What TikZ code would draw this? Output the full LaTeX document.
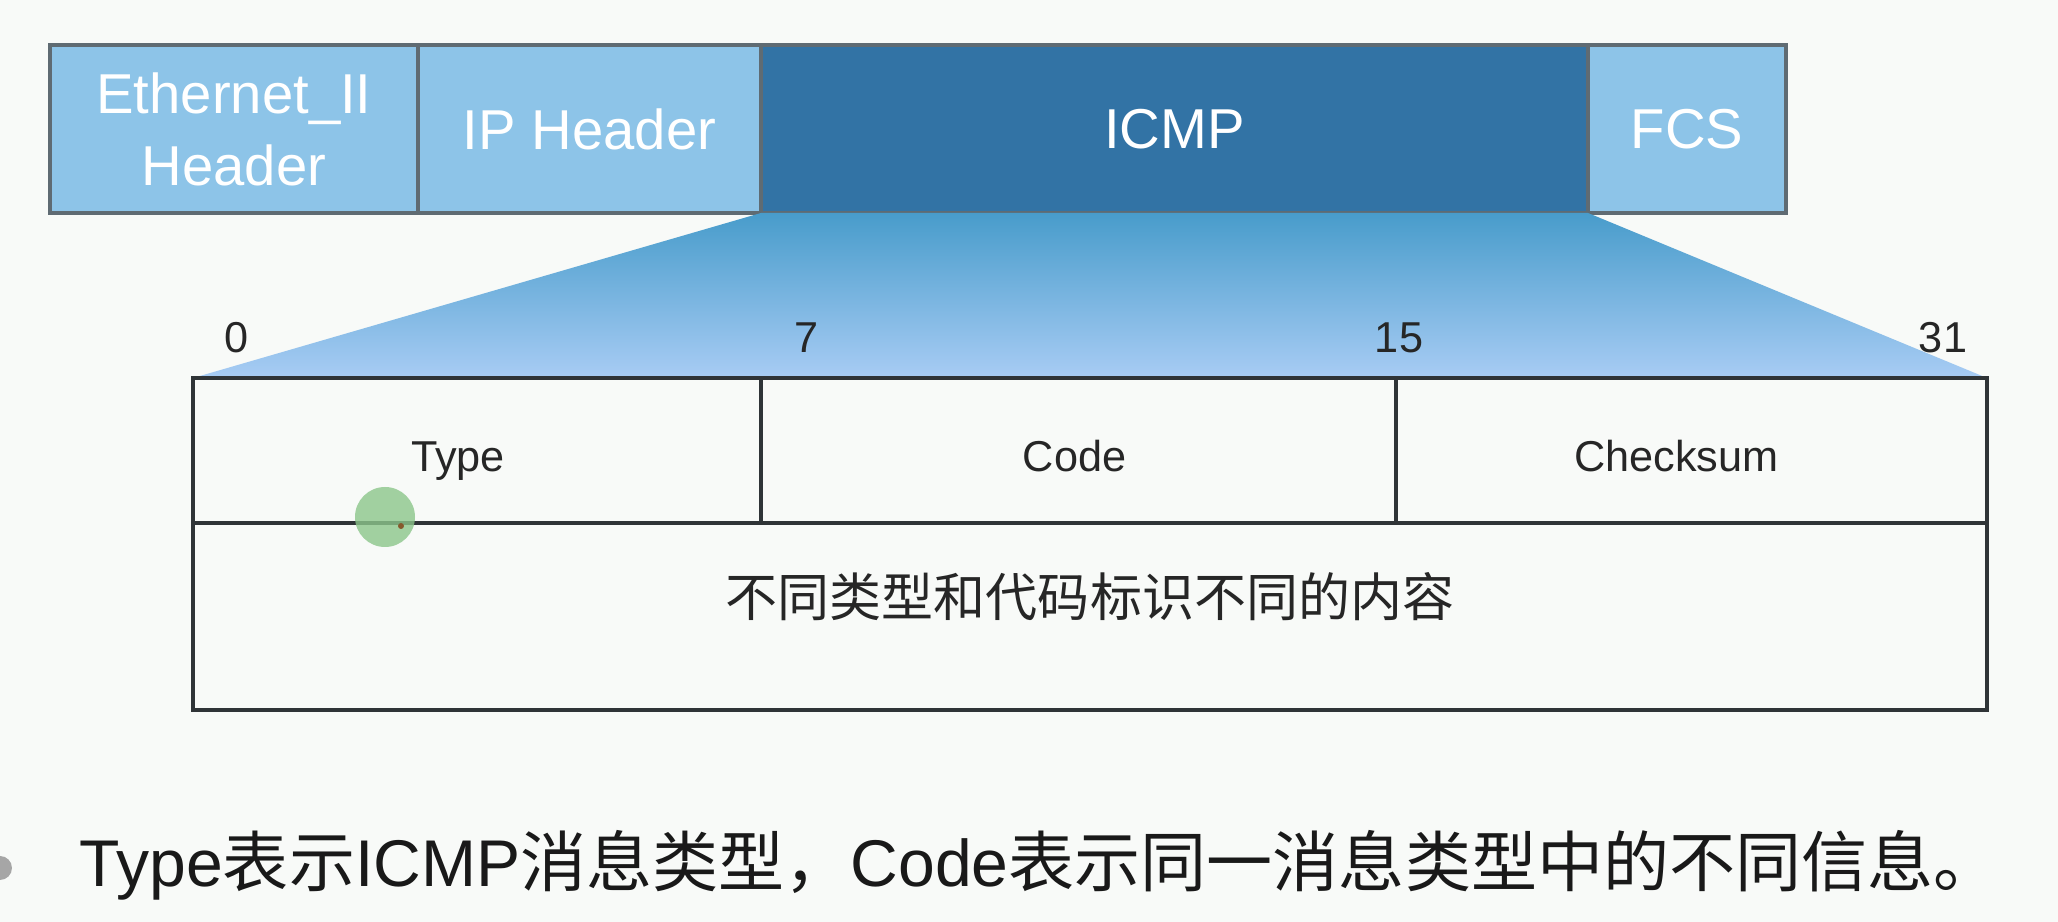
\documentclass[tikz,border=0pt]{standalone}
\usepackage{fontspec}
\setmainfont{Liberation Sans}
\newfontfamily\cjk{Noto Sans CJK SC}
\usetikzlibrary{positioning}
\definecolor{pagebg}{HTML}{F8FAF8}
\definecolor{fieldblue}{HTML}{8DC4E8}
\definecolor{icmpblue}{HTML}{3273A5}
\definecolor{framegray}{HTML}{5F6B73}
\definecolor{fantop}{HTML}{489CCB}
\definecolor{fanbottom}{HTML}{A8CCF4}
\definecolor{linegray}{HTML}{2F3437}
\definecolor{cursorgreen}{HTML}{8CC68B}
\tikzset{%
  field/.style   = {shape=rectangle, draw=framegray, line width=1pt,%
                    fill=fieldblue, text=white, outer sep=0pt, inner sep=0pt,%
                    minimum height=1.68cm, align=center,%
                    font=\fontsize{16}{20.5}\selectfont},%
  payload/.style = {field, fill=icmpblue},%
  cell/.style    = {shape=rectangle, draw=linegray, line width=0.9pt,%
                    fill=pagebg, outer sep=0pt, inner sep=0pt},%
  celltext/.style= {anchor=base, font=\fontsize{12.3}{14}\selectfont, text=black!85},%
  bitnum/.style  = {anchor=base, font=\fontsize{12.3}{14}\selectfont, text=black!85}%
}

\begin{document}
\begin{tikzpicture}
	\fill[pagebg] (0,0) rectangle (20.58,-9.22);
	\useasboundingbox (0,0) rectangle (20.58,-9.22);
	% frame
	\node[field, anchor=north west, minimum width=3.68cm] (eth) at (0.50,-0.45) {Ethernet\_II\\Header};
	\node[field, right=0pt of eth, minimum width=3.43cm] (ip) {IP Header};
	\node[payload, right=0pt of ip, minimum width=8.27cm] (icmp) {ICMP};
	\node[field, right=0pt of icmp, minimum width=1.98cm] (fcs) {FCS};
	% zoom fan
	\coordinate (tabnw) at (1.93,-3.78);
	\coordinate (tabne) at (19.87,-3.78);
	\shade[top color=fantop, bottom color=fanbottom] (icmp.south west) -- (icmp.south east) -- (tabne) -- (tabnw) -- cycle;
	% header table
	\node[cell, anchor=north west, minimum width=5.68cm, minimum height=1.45cm] (typecell) at (tabnw) {};
	\node[cell, right=0pt of typecell, minimum width=6.35cm, minimum height=1.45cm] (codecell) {};
	\node[cell, right=0pt of codecell, minimum width=5.91cm, minimum height=1.45cm] (sumcell) {};
	\node[cell, anchor=north west, minimum width=17.94cm, minimum height=1.87cm] (datacell) at (typecell.south west) {};
	\node[celltext] (typetxt) at ([shift={(-0.19,-0.215)}]typecell.center) {Type};
	\node[celltext] (codetxt) at ([shift={(-0.04,-0.215)}]codecell.center) {Code};
	\node[celltext] (sumtxt) at ([shift={(-0.15,-0.215)}]sumcell.center) {Checksum};
	\node[anchor=base, font=\cjk\fontsize{14.8}{16}\selectfont, text=black!85] (datatxt) at (datacell.center) {不同类型和代码标识不同的内容};
	% bit numbers
	\node[bitnum] (bit0) at (2.37,-3.53) {0};
	\node[bitnum] (bit7) at (8.07,-3.53) {7};
	\node[bitnum] (bit15) at (13.99,-3.53) {15};
	\node[bitnum] (bit31) at (19.43,-3.53) {31};
	% pointer
	\fill[cursorgreen, opacity=0.8] (3.85,-5.17) circle (0.30);
	\fill[brown!70!black] (4.01,-5.26) circle (0.03);
	% note
	\fill[gray!70] (0,-8.56) arc[start angle=90, end angle=-90, radius=0.12];
	\node[anchor=base west, inner sep=0pt, font=\fontsize{18.8}{20}\selectfont, text=black!90] (note) at (0.79,-8.87)
		{Type{\cjk 表示}ICMP{\cjk 消息类型，}Code{\cjk 表示同一消息类型中的不同信息。}};
\end{tikzpicture}
\end{document}
